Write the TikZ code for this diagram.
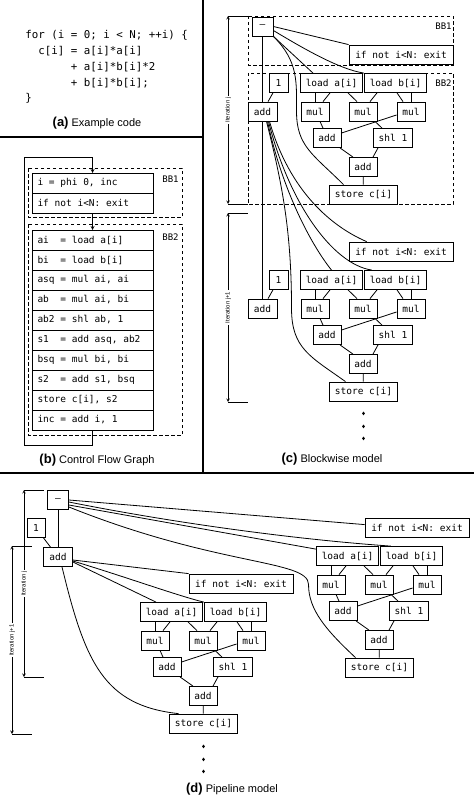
\documentclass[tikz,border=0pt]{standalone}
\usepackage{fontspec}
\setmainfont{Liberation Sans}
\newfontfamily\codefont{DejaVu Sans Mono}
\usepackage{tikz}
\usetikzlibrary{arrows,positioning,calc}

% sub-figure tag, e.g. (a)
\newcommand{\subtag}[1]{{\fontsize{13}{13}\selectfont\bfseries(#1)}}
% iteration span: name, x, top, bottom, text
\newcommand{\iterspan}[5]{%
  \draw (#2,#3) -- ++(20,0) (#2,#4) -- ++(20,0);
  \draw[span] (#2,#3) -- (#2,#4) node[spanlabel, midway] (#1) {#5};
}

\begin{document}
\begin{tikzpicture}[
        x=1pt, y=-1pt, line width=0.8pt,
        op/.style={rectangle, draw, minimum height=19pt, minimum width=19pt, inner xsep=5.5pt, inner ysep=0pt, font=\codefont\fontsize{9.5}{11}\selectfont},
        row/.style={rectangle, draw, minimum height=20pt, text width=110pt, align=flush left, inner xsep=5.5pt, inner ysep=0pt, outer sep=0pt, font=\codefont\fontsize{9.5}{11}\selectfont},
        code/.style={align=flush left, inner sep=0pt, font=\codefont\fontsize{10.8}{15.8}\selectfont},
        bb/.style={dash pattern=on 3.5pt off 2.5pt},
        bbtag/.style={anchor=east, inner sep=0pt, font=\codefont\fontsize{9}{10}\selectfont},
        caption/.style={font=\fontsize{11}{13}\selectfont},
        arrow/.style={->, >=stealth},
        span/.style={<->, >=stealth, line width=0.6pt},
        spanlabel/.style={rotate=90, fill=white, inner sep=1.5pt, font=\fontsize{6}{7}\selectfont},
        rule/.style={line width=1.6pt}
    ]
        \useasboundingbox (0,0) rectangle (474,797);

        % Panel rules
        \draw[rule] (0,137) -- (203,137);
        \draw[rule] (203,0) -- (203,473);
        \draw[rule] (0,473) -- (474,473);

        % (a) Example code
        \node[code, anchor=north west] (src) at (25,30) {for (i = 0; i < N; ++i) \{\\
\phantom{xx}c[i] = a[i]*a[i]\\
\phantom{xxxxxxx}+ a[i]*b[i]*2\\
\phantom{xxxxxxx}+ b[i]*b[i];\\
\}};
        \node[caption] (cap-a) at (97,123) {\subtag{a} Example code};

        % (b) Control flow graph
        \node[row] (b-phi) at (92.5,183) {i = phi 0, inc};
        \node[row, below=0pt of b-phi] (b-ifn) {if not i<N: exit};
        \node[row] (b-ai) at (92.5,240) {ai\ \ = load a[i]};
        \node[row, below=0pt of b-ai] (b-bi) {bi\ \ = load b[i]};
        \node[row, below=0pt of b-bi] (b-asq) {asq = mul ai, ai};
        \node[row, below=0pt of b-asq] (b-ab) {ab\ \ = mul ai, bi};
        \node[row, below=0pt of b-ab] (b-ab2) {ab2 = shl ab, 1};
        \node[row, below=0pt of b-ab2] (b-s1) {s1\ \ = add asq, ab2};
        \node[row, below=0pt of b-s1] (b-bsq) {bsq = mul bi, bi};
        \node[row, below=0pt of b-bsq] (b-s2) {s2\ \ = add s1, bsq};
        \node[row, below=0pt of b-s2] (b-st) {store c[i], s2};
        \node[row, below=0pt of b-st] (b-inc) {inc = add i, 1};
        \draw[bb] (28,168) rectangle (182,217);
        \draw[bb] (28,224) rectangle (182,435);
        \node[bbtag] (b-bb1) at (179,179) {BB1};
        \node[bbtag] (b-bb2) at (179,237) {BB2};
        \draw[arrow] (b-inc.south) -- ++(0,15) -- ++(-68.5,0) |- ([yshift=16pt]b-phi.north) -- (b-phi.north);
        \draw[arrow] (b-ifn) -- (b-ai);
        \node[caption] (cap-b) at (97,460) {\subtag{b} Control Flow Graph};

        % Loop bodies: (c) iterations j, j+1 and (d) iterations j, j+1
        \foreach \p/\dx/\dy in {cj/0/0, cn/0/197, dj/16/473, dn/-160/529} {
            \begin{scope}[shift={(\dx,\dy)}]
                \node[op, minimum width=104pt] (\p-ifn) at (401,54.5) {if not i<N: exit};
                \node[op] (\p-la) at (331.5,83) {load a[i]};
                \node[op] (\p-lb) at (395.5,83) {load b[i]};
                \node[op] (\p-m1) at (315,111.5) {mul};
                \node[op] (\p-m2) at (363,111.5) {mul};
                \node[op] (\p-m3) at (411,111.5) {mul};
                \node[op] (\p-a2) at (327,138) {add};
                \node[op] (\p-sh) at (393,138) {shl 1};
                \node[op] (\p-a3) at (363,167) {add};
                \node[op] (\p-st) at (363.5,194.5) {store c[i]};
            \end{scope}
            \draw (\p-m1.north |- \p-la.south) -- (\p-m1.north);
            \draw ([xshift=-1.5pt]\p-la.south) -- ([xshift=8pt]\p-m1.north);
            \draw ([xshift=16.5pt]\p-la.south) -- ([xshift=-6pt]\p-m2.north);
            \draw ([xshift=-18.5pt]\p-lb.south) -- ([xshift=7pt]\p-m2.north);
            \draw ([xshift=1.5pt]\p-lb.south) -- ([xshift=-8pt]\p-m3.north);
            \draw (\p-m3.north |- \p-lb.south) -- (\p-m3.north);
            \draw ([xshift=5pt]\p-m1.south) -- ([xshift=-4pt]\p-a2.north);
            \draw ([yshift=-3.5pt]\p-m3.west) -- ([yshift=5pt]\p-a2.east);
            \draw ([xshift=12pt]\p-m2.south) -- ([xshift=-11pt]\p-sh.north);
            \draw ([xshift=13pt]\p-a2.south) -- ([xshift=-10pt]\p-a3.north);
            \draw ([xshift=-15pt]\p-sh.south) -- ([xshift=10pt]\p-a3.north);
            \draw (\p-a3) -- (\p-st);
        }

        % (c) Blockwise model
        \node[op, minimum width=21pt] (cphi) at (262.5,26.5) {–};
        \node[op] (cj-one) at (278.5,83) {1};
        \node[op, minimum width=29pt] (cj-add) at (262.5,111.5) {add};
        \node[op] (cn-one) at (278.5,280) {1};
        \node[op, minimum width=29pt] (cn-add) at (262.5,308.5) {add};
        \draw[bb] (248,16) rectangle (453,65);
        \draw[bb] (248,73) rectangle (453,204);
        \node[bbtag] (c-bb1) at (452,26) {BB1};
        \node[bbtag] (c-bb2) at (452,83) {BB2};

        \draw (cphi) -- (cj-add);
        \draw (cphi.east) -- (cj-ifn.north west);
        \draw ([yshift=-4pt]cphi.east) .. controls +(30,18) and +(-25,-4) .. (cj-lb.north west);
        \draw (cphi.south east) -- ([xshift=-18.5pt]cj-la.north);
        \draw (cphi.south east) .. controls +(25,25) and +(0,-30) .. ([xshift=-4pt]cj-m1.west)
              .. controls +(0,35) and +(-30,-30) .. ([xshift=-20pt]cj-st.north);
        \draw (cj-one) -- (cj-add);
        \draw (cj-add) -- (cn-add);
        \draw (cn-one) -- (cn-add);
        \draw ([xshift=4pt]cj-add.south) .. controls +(15,60) and +(0,-80) .. ([xshift=-9pt]cn-m1.west)
              .. controls +(0,40) and +(-35,-25) .. ([xshift=-18pt]cn-st.north);
        \draw ([xshift=5pt]cj-add.south) .. controls +(15,70) and +(-20,-25) .. (cn-la.north);
        \draw ([xshift=6pt]cj-add.south) .. controls +(20,80) and +(-40,-6) .. ([xshift=8pt]cn-lb.north west);
        \draw ([xshift=7pt]cj-add.south) .. controls +(20,70) and +(-35,-15) .. ([xshift=18pt]cn-ifn.north west);

        \iterspan{span-cj}{228}{16}{204}{Iteration j}
        \iterspan{span-cn}{228}{213}{402}{Iteration j+1}
        \foreach \k in {12,25,37} \fill ([yshift=-\k]cn-st.south) ellipse (1.4pt and 1.9pt);
        \node[caption] (cap-c) at (332,459) {\subtag{c} Blockwise model};

        % (d) Pipeline model
        \node[op, minimum width=21pt] (dphi) at (58,500) {–};
        \node[op, minimum width=18pt] (d-one) at (36,528) {1};
        \node[op, minimum width=29pt] (dadd) at (58,557) {add};

        \draw (dphi) -- (dadd);
        \draw (d-one) -- (dadd);
        \draw (dphi.east) -- ([yshift=-7pt]dj-ifn.north west);
        \draw ([yshift=-2pt]dphi.east) .. controls +(100,20) and +(-100,-7) .. ([xshift=11pt]dj-lb.north west);
        \draw ([yshift=-5pt]dphi.east) -- ([yshift=-3pt]dj-la.north west);
        \draw ([yshift=-7pt]dphi.east) .. controls +(150,60) and +(0,-25) .. ([xshift=-8pt]dj-m1.west)
              .. controls +(0,25) and +(-30,-28) .. ([xshift=-24pt]dj-st.north);
        \draw ([yshift=-3pt]dadd.east) -- (dn-ifn.north west);
        \draw ([yshift=-5pt]dadd.east) -- ([xshift=-15.5pt]dn-la.north);
        \draw ([yshift=-4pt]dadd.east) .. controls +(50,15) and +(-25,-6) .. (dn-lb.north west);
        \draw ([xshift=4pt]dadd.south) .. controls +(23,95) and +(-75,-8) .. ([xshift=-25pt]dn-st.north);

        \iterspan{span-dj}{24}{490}{677}{Iteration j}
        \iterspan{span-dn}{12}{546}{734}{Iteration j+1}
        \foreach \k in {13,26,38} \fill ([yshift=-\k]dn-st.south) ellipse (1.4pt and 1.9pt);
        \node[caption] (cap-d) at (232,789) {\subtag{d} Pipeline model};
    \end{tikzpicture}
\end{document}
